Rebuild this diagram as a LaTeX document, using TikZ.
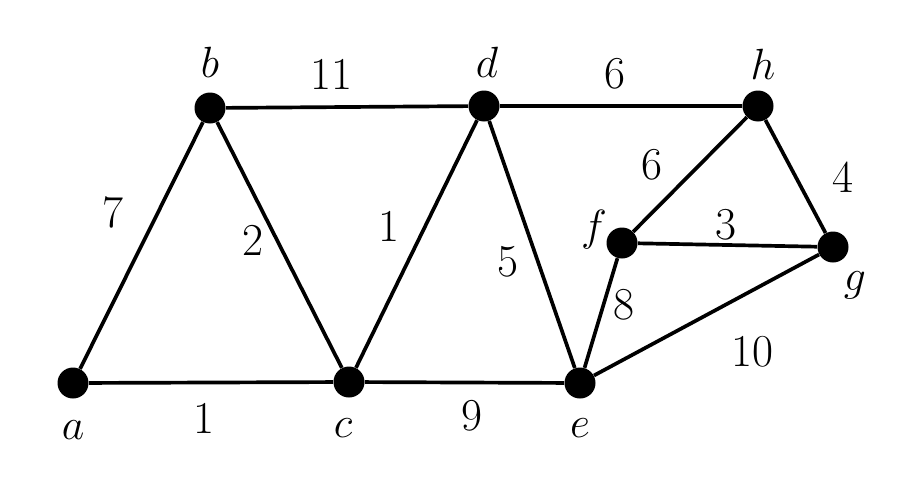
\documentclass[tikz,border=0pt]{standalone}
\begin{document}
\begin{tikzpicture}[x=0.02cm,y=-0.02cm,
  vtx/.style={circle,fill=black,inner sep=0pt,minimum size=0.62cm},
  vlab/.style={font=\fontsize{34}{36}\selectfont,inner sep=0pt},
  elab/.style={font=\fontsize{26}{28}\selectfont,inner sep=0pt},
  edge/.style={line width=2.1pt}]
\useasboundingbox (0,0) rectangle (902,484);
\node[vtx] (a) at (73,383) {};
\node[vtx] (b) at (210,108) {};
\node[vtx] (c) at (349,382) {};
\node[vtx] (d) at (484,106) {};
\node[vtx] (e) at (580,383) {};
\node[vtx] (f) at (622,243) {};
\node[vtx] (g) at (833,247) {};
\node[vtx] (h) at (758,106) {};
\node[vlab] (la) at (73,430) {$a$};
\node[vlab] (lb) at (210,62) {$b$};
\node[vlab] (lc) at (343,428) {$c$};
\node[vlab] (ld) at (487,62) {$d$};
\node[vlab] (le) at (580,428) {$e$};
\node[vlab] (lf) at (594,230) {$f$};
\node[vlab] (lg) at (855,285) {$g$};
\node[vlab] (lh) at (763,64) {$h$};
\draw[edge] (a)--(b) (a)--(c) (b)--(c) (b)--(d) (c)--(d) (c)--(e) (d)--(e) (d)--(h)
  (h)--(f) (h)--(g) (f)--(g) (f)--(e) (e)--(g);
\node[elab] (w1) at (331,74) {11};
\node[elab] (w2) at (615,74) {6};
\node[elab] (w3) at (113,212) {7};
\node[elab] (w4) at (253,240) {2};
\node[elab] (w5) at (389,226) {1};
\node[elab] (w6) at (508,262) {5};
\node[elab] (w7) at (652,165) {6};
\node[elab] (w8) at (843,177) {4};
\node[elab] (w9) at (726,225) {3};
\node[elab] (w10) at (624,305) {8};
\node[elab] (w11) at (752,352) {10};
\node[elab] (w12) at (204,418) {1};
\node[elab] (w13) at (472,416) {9};
\end{tikzpicture}
\end{document}
